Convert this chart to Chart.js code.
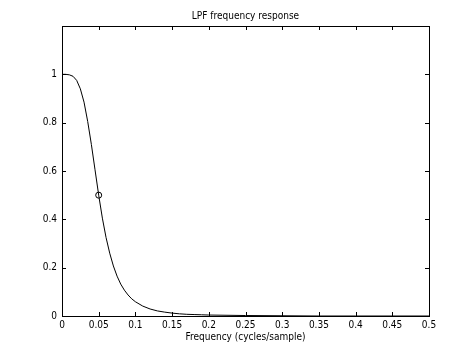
<!DOCTYPE html>
<html>
<head>
<meta charset="utf-8">
<script src="https://cdn.jsdelivr.net/npm/chart.js@4"></script>
<style>
  html, body { margin: 0; padding: 0; background: #fff; }
  #lpf { display: block; }
</style>
</head>
<body>
<canvas id="lpf" width="474" height="355"></canvas>
<script>
// values
const freq = [0, 0.005, 0.01, 0.015, 0.02, 0.025, 0.03, 0.035, 0.04, 0.045, 0.05,
    0.055, 0.06, 0.065, 0.07, 0.075, 0.08, 0.085, 0.09, 0.095, 0.1,
    0.11, 0.12, 0.13, 0.14, 0.15, 0.16, 0.17, 0.18, 0.19, 0.2,
    0.25, 0.3, 0.35, 0.4, 0.45, 0.5]
const mag = [1, 1, 0.998, 0.992, 0.975, 0.94, 0.885, 0.805, 0.71, 0.605, 0.5,
    0.405, 0.325, 0.26, 0.207, 0.165, 0.132, 0.107, 0.087, 0.071, 0.059,
    0.041, 0.029, 0.021, 0.016, 0.012, 0.009, 0.007, 0.006, 0.005, 0.004,
    0.002, 0.001, 0, 0, 0, 0]

const markerX = [0.05]
const markerY = [0.5]

const xTicks = [0, 0.05, 0.1, 0.15, 0.2, 0.25, 0.3, 0.35, 0.4, 0.45, 0.5]
const yTicks = [0, 0.2, 0.4, 0.6, 0.8, 1]

const FONT = '"Liberation Sans Narrow", "Arial Narrow", "DejaVu Sans Condensed", Arial, sans-serif'

// box round the plot plus inward tick marks on all four sides
const boxTicks = {
    id: 'boxTicks',
    afterDraw(chart) {
        const {ctx, chartArea: a, scales} = chart
        const len = 4
        ctx.save()
        ctx.strokeStyle = '#000'
        ctx.lineWidth = 1
        ctx.beginPath()
        scales.x.ticks.forEach(t => {
            const px = Math.round(scales.x.getPixelForValue(t.value)) + 0.5
            ctx.moveTo(px, a.bottom); ctx.lineTo(px, a.bottom - len)
            ctx.moveTo(px, a.top); ctx.lineTo(px, a.top + len)
        })
        scales.y.ticks.forEach(t => {
            const py = Math.round(scales.y.getPixelForValue(t.value)) + 0.5
            ctx.moveTo(a.left, py); ctx.lineTo(a.left + len, py)
            ctx.moveTo(a.right, py); ctx.lineTo(a.right - len, py)
        })
        ctx.stroke()
        ctx.strokeRect(Math.round(a.left) + 0.5, Math.round(a.top) + 0.5,
            Math.round(a.right - a.left), Math.round(a.bottom - a.top))
        ctx.restore()
    }
}

new Chart(document.getElementById('lpf'), {
    type: 'scatter',
    data: {
        datasets: [
            {
                data: freq.map((f, i) => ({x: f, y: mag[i]})),
                showLine: true,
                borderColor: '#000',
                borderWidth: 1,
                pointRadius: 0,
                tension: 0
            },
            {
                data: markerX.map((f, i) => ({x: f, y: markerY[i]})),
                showLine: false,
                pointRadius: 3,
                pointBorderColor: '#000',
                pointBackgroundColor: 'rgba(0,0,0,0)',
                pointBorderWidth: 1
            }
        ]
    },
    options: {
        responsive: false,
        animation: false,
        layout: {padding: {left: 0, right: 45, top: 0, bottom: 0}},
        plugins: {
            legend: {display: false},
            tooltip: {enabled: false},
            title: {
                display: true,
                text: 'LPF frequency response',
                fullSize: false,
                color: '#000',
                font: {family: FONT, size: 10, weight: 'normal'},
                padding: {top: 10, bottom: 4}
            }
        },
        scales: {
            x: {
                type: 'linear',
                min: 0,
                max: 0.5,
                afterBuildTicks: s => { s.ticks = xTicks.map(v => ({value: v})) },
                afterFit: s => { s.height = 39 },
                grid: {display: false, drawTicks: false},
                border: {display: false},
                ticks: {
                    color: '#000',
                    padding: 3,
                    maxRotation: 0,
                    autoSkip: false,
                    font: {family: FONT, size: 10},
                    callback: v => String(v)
                },
                title: {
                    display: true,
                    text: 'Frequency (cycles/sample)',
                    color: '#000',
                    font: {family: FONT, size: 10},
                    padding: {top: 0, bottom: 12}
                }
            },
            y: {
                type: 'linear',
                min: 0,
                max: 1.2,
                afterBuildTicks: s => { s.ticks = yTicks.map(v => ({value: v})) },
                afterFit: s => { s.width = 62 },
                grid: {display: false, drawTicks: false},
                border: {display: false},
                ticks: {
                    color: '#000',
                    padding: 5,
                    autoSkip: false,
                    font: {family: FONT, size: 10},
                    callback: v => String(v)
                }
            }
        }
    },
    plugins: [boxTicks]
})
</script>
</body>
</html>
